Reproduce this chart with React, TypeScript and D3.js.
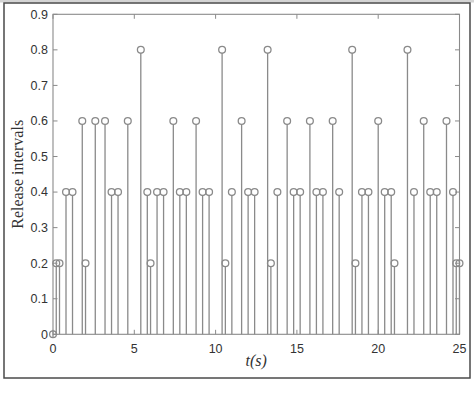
import * as d3 from "d3";

// release instants (s) and the interval since the previous release
const releaseTimes = [
  0, 0.2, 0.4, 0.8, 1.2, 1.8, 2.0, 2.6, 3.2, 3.6, 4.0, 4.6, 5.4, 5.8, 6.0, 6.4, 6.8, 7.4, 7.8, 8.2,
  8.8, 9.2, 9.6, 10.4, 10.6, 11.0, 11.6, 12.0, 12.4, 13.2, 13.4, 13.8, 14.4, 14.8, 15.2, 15.8, 16.2,
  16.6, 17.2, 17.6, 18.4, 18.6, 19.0, 19.4, 20.0, 20.4, 20.8, 21.0, 21.8, 22.2, 22.8, 23.2, 23.6,
  24.2, 24.6, 24.8, 25.0,
];
const releaseIntervals = [
  0, 0.2, 0.2, 0.4, 0.4, 0.6, 0.2, 0.6, 0.6, 0.4, 0.4, 0.6, 0.8, 0.4, 0.2, 0.4, 0.4, 0.6, 0.4, 0.4,
  0.6, 0.4, 0.4, 0.8, 0.2, 0.4, 0.6, 0.4, 0.4, 0.8, 0.2, 0.4, 0.6, 0.4, 0.4, 0.6, 0.4, 0.4, 0.6,
  0.4, 0.8, 0.2, 0.4, 0.4, 0.6, 0.4, 0.4, 0.2, 0.8, 0.4, 0.6, 0.4, 0.4, 0.6, 0.4, 0.2, 0.2,
];
const xTicks = [0, 5, 10, 15, 20, 25];
const yTicks = [0, 0.1, 0.2, 0.3, 0.4, 0.5, 0.6, 0.7, 0.8, 0.9];

export default function App() {
  const width = 474;
  const height = 401;
  const margin = { top: 14.3, right: 14.5, bottom: 66.7, left: 53 };

  const x = d3.scaleLinear().domain([0, 25]).range([margin.left, width - margin.right]);
  const y = d3.scaleLinear().domain([0, 0.9]).range([height - margin.bottom, margin.top]);

  const x0 = x(0);
  const x1 = x(25);
  const y0 = y(0);
  const y1 = y(0.9);
  const tickLen = 4.5;
  const grey = "#8a8a8a";
  const textCol = "#333";
  const sans = "'Liberation Sans', Arial, sans-serif";
  const serif = "'Liberation Serif', 'Times New Roman', serif";

  const points = releaseTimes.map((t, i) => ({ t, v: releaseIntervals[i] }));

  return (
    <svg
      width={width}
      height={height}
      style={{ position: "absolute", left: 0, top: 0, background: "#fff" }}
    >
      <rect x={0} y={0} width={width} height={2.5} fill="#d4d4d4" />
      <rect x={4} y={3} width={466} height={375} fill="#fff" stroke="#4a4a4a" strokeWidth={1.5} />

      {/* stems */}
      <g stroke={grey} strokeWidth={1.3}>
        {points.map((d, i) => (
          <line key={i} x1={x(d.t)} x2={x(d.t)} y1={y0} y2={y(d.v) + 3.4} />
        ))}
      </g>

      {/* axes box */}
      <rect x={x0} y={y1} width={x1 - x0} height={y0 - y1} fill="none" stroke={grey} strokeWidth={1.1} />

      {/* ticks */}
      <g stroke={grey} strokeWidth={1}>
        {xTicks.map((t) => (
          <g key={t}>
            <line x1={x(t)} x2={x(t)} y1={y0} y2={y0 - tickLen} />
            <line x1={x(t)} x2={x(t)} y1={y1} y2={y1 + tickLen} />
          </g>
        ))}
        {yTicks.map((t) => (
          <g key={t}>
            <line x1={x0} x2={x0 + tickLen} y1={y(t)} y2={y(t)} />
            <line x1={x1} x2={x1 - tickLen} y1={y(t)} y2={y(t)} />
          </g>
        ))}
      </g>

      {/* markers */}
      <g fill="none" stroke={grey} strokeWidth={1.3}>
        {points.map((d, i) => (
          <circle key={i} cx={x(d.t)} cy={y(d.v)} r={3.4} />
        ))}
      </g>

      {/* tick labels */}
      <g fill={textCol} fontFamily={sans} fontSize={12.5}>
        {xTicks.map((t) => (
          <text key={t} x={x(t)} y={y0 + 19} textAnchor="middle">
            {t}
          </text>
        ))}
        {yTicks.map((t) => (
          <text key={t} x={x0 - 5} y={y(t)} dy="0.35em" textAnchor="end">
            {t === 0 ? "0" : t.toFixed(1)}
          </text>
        ))}
      </g>

      {/* axis labels */}
      <text
        x={(x0 + x1) / 2}
        y={366}
        textAnchor="middle"
        fill={textCol}
        fontFamily={serif}
        fontStyle="italic"
        fontSize={16}
      >
        t(s)
      </text>
      <text
        transform={`translate(23,${(y0 + y1) / 2}) rotate(-90)`}
        textAnchor="middle"
        fill={textCol}
        fontFamily={serif}
        fontSize={16}
      >
        Release intervals
      </text>
    </svg>
  );
}
